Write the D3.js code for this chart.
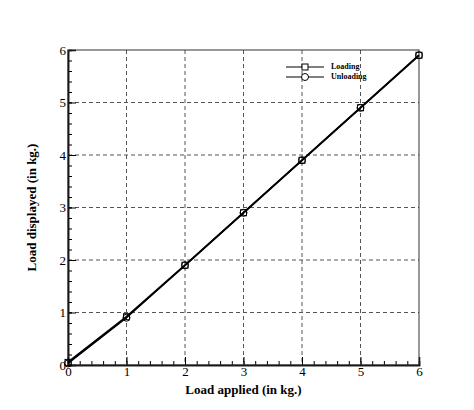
<!DOCTYPE html>
<html><head><meta charset="utf-8">
<script src="https://cdn.jsdelivr.net/npm/d3@7"></script>
<style>body{margin:0;background:#fff}svg{font-family:"Liberation Serif",serif}</style>
</head><body><svg width="474" height="410"></svg>
<script>
const applied = [0, 1, 2, 3, 4, 5, 6];
const loading = [0.05, 0.92, 1.9, 2.9, 3.9, 4.9, 5.9];
const unloading = [0.03, 0.9, 1.9, 2.9, 3.9, 4.9, 5.9];
const ticks = [0, 1, 2, 3, 4, 5, 6];

const svg = d3.select("svg");
const m = {l: 68, r: 55, t: 50, b: 45};
const w = 474 - m.l - m.r, h = 410 - m.t - m.b;
const g = svg.append("g").attr("transform", `translate(${m.l},${m.t})`);
const x = d3.scaleLinear().domain([0, 6]).range([0, w]);
const y = d3.scaleLinear().domain([0, 6]).range([h, 0]);

// grid
g.selectAll(".gx").data(ticks.slice(1, -1)).join("line")
  .attr("x1", d => x(d)).attr("x2", d => x(d)).attr("y1", 0).attr("y2", h)
  .attr("stroke", "#555").attr("stroke-dasharray", "4,3");
g.selectAll(".gy").data(ticks.slice(1, -1)).join("line")
  .attr("y1", d => y(d)).attr("y2", d => y(d)).attr("x1", 0).attr("x2", w)
  .attr("stroke", "#555").attr("stroke-dasharray", "4,3");

const minor = d3.range(0, 6.01, 0.2);
const xa = g.append("g").attr("transform", `translate(0,${h})`)
  .call(d3.axisBottom(x).tickValues(minor).tickSize(-4).tickFormat(""));
xa.append("g").call(d3.axisBottom(x).tickValues(ticks).tickSize(-8).tickPadding(2).tickFormat(d3.format("d")));
const ya = g.append("g")
  .call(d3.axisLeft(y).tickValues(minor).tickSize(-4).tickFormat(""));
ya.append("g").call(d3.axisLeft(y).tickValues(ticks).tickSize(-8).tickPadding(2).tickFormat(d3.format("d")));
g.selectAll(".domain").attr("stroke", "#000").attr("stroke-width", 1.5);
g.selectAll(".tick text").attr("font-size", 13).attr("fill", "#000").attr("font-family", "Liberation Serif");
g.append("rect").attr("width", w).attr("height", h).attr("fill", "none").attr("stroke", "#333");

const line = d3.line().x((d, i) => x(applied[i])).y(d => y(d));
g.append("path").datum(loading).attr("d", line).attr("fill", "none").attr("stroke", "#000").attr("stroke-width", 2);
g.append("path").datum(unloading).attr("d", line).attr("fill", "none").attr("stroke", "#000").attr("stroke-width", 1.5);
g.selectAll(".sq").data(loading).join("rect")
  .attr("x", (d, i) => x(applied[i]) - 3).attr("y", d => y(d) - 3).attr("width", 6).attr("height", 6)
  .attr("fill", "none").attr("stroke", "#000");
g.selectAll(".ci").data(unloading).join("circle")
  .attr("cx", (d, i) => x(applied[i])).attr("cy", d => y(d)).attr("r", 3.5)
  .attr("fill", "none").attr("stroke", "#000");

// legend
const lg = g.append("g").attr("transform", "translate(218,17)");
[["Loading", "rect"], ["Unloading", "circle"]].forEach(([t, s], i) => {
  const r = lg.append("g").attr("transform", `translate(0,${i * 10})`);
  r.append("line").attr("x1", 0).attr("x2", 38).attr("stroke", "#000").attr("stroke-width", 1.2);
  if (s === "rect") r.append("rect").attr("x", 16).attr("y", -3).attr("width", 6).attr("height", 6).attr("fill", "#fff").attr("stroke", "#000");
  else r.append("circle").attr("cx", 19).attr("r", 3.5).attr("fill", "#fff").attr("stroke", "#000");
  r.append("text").attr("x", 45).attr("y", 2).attr("font-size", 8).attr("font-weight", "bold").text(t);
});

svg.append("text").attr("x", m.l + w / 2).attr("y", 394).attr("text-anchor", "middle")
  .attr("font-size", 13).attr("font-weight", "bold").text("Load applied (in kg.)");
svg.append("text").attr("transform", `translate(36,${m.t + h / 2}) rotate(-90)`).attr("text-anchor", "middle")
  .attr("font-size", 13).attr("font-weight", "bold").text("Load displayed (in kg.)");
</script></body></html>
